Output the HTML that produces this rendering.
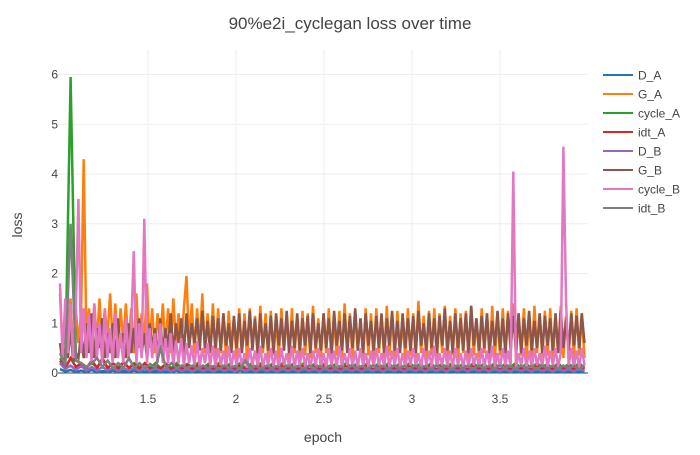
<!DOCTYPE html>
<html><head><meta charset="utf-8"><style>
body{margin:0;background:#fff;font-family:"Liberation Sans",sans-serif;}
svg text{font-family:"Liberation Sans",sans-serif;}
</style></head><body>
<svg id="c" width="700" height="450" xmlns="http://www.w3.org/2000/svg">
<text x="350" y="29" text-anchor="middle" font-size="17" fill="#444">90%e2i_cyclegan loss over time</text>
<text x="323" y="442" text-anchor="middle" font-size="14" fill="#444">epoch</text>
<text x="0" y="0" transform="translate(22,225) rotate(-90)" text-anchor="middle" font-size="14" fill="#444">loss</text>
<g id="grid"></g><g id="marks"></g><g id="legend"></g>
</svg>
<script>
const xTicks=[1.5,2,2.5,3,3.5];
const yTicks=[0,1,2,3,4,5,6];
const seriesNames=["D_A","G_A","cycle_A","idt_A","D_B","G_B","cycle_B","idt_B"];
const seriesColors=["#1f77b4","#ff7f0e","#2ca02c","#d62728","#9467bd","#8c564b","#e377c2","#7f7f7f"];
const xStart=1.0, xEnd=3.98;
const D_A=[0.08,0.03,0.06,0.02,0.05,0.02,0.06,0.01,0.04,0.02,0.05,0.01,0.04,0.02,0.05,0.01,0.03,0.02,0.04,0.01,0.03,0.02,0.05,0.01,0.03,0.02,0.04,0.01,0.03,0.02,0.04,0.01,0.03,0.02,0.05,0.01,0.03,0.02,0.04,0.01,0.03,0.02,0.04,0.01,0.03,0.02,0.04,0.01,0.03,0.02,0.03,0.01,0.04,0.02,0.03,0.01,0.04,0.02,0.03,0.01,0.04,0.02,0.03,0.01,0.04,0.02,0.03,0.01,0.04,0.02,0.03,0.01,0.04,0.02,0.03,0.01,0.04,0.02,0.03,0.01,0.04,0.02,0.03,0.01,0.04,0.02,0.03,0.01,0.04,0.02,0.03,0.01,0.04,0.02,0.03,0.01,0.04,0.02,0.03,0.01];
const G_A=[1.6,0.5,1.2,0.6,1.5,0.4,1.3,0.6,1.2,4.3,0.7,1.3,0.5,1.4,0.6,1.5,0.5,1.3,0.7,1.6,
0.6,1.4,0.5,1.3,0.6,1.4,0.5,1.3,0.4,1.6,0.5,1.2,0.6,1.8,0.5,1.3,0.4,1.2,0.6,1.4,
0.5,1.3,0.4,1.5,0.6,1.2,0.5,1.3,1.95,0.6,1.4,0.4,1.3,0.5,1.6,0.4,1.2,0.5,1.4,0.3,
1.3,0.4,1.2,0.3,1.25,0.5,1.1,0.3,1.3,0.4,1.2,0.25,1.3,0.5,1.15,0.3,1.35,0.4,1.2,0.3,
1.25,0.35,1.1,0.3,1.3,0.45,1.2,0.25,1.3,0.4,1.15,0.3,1.25,0.35,1.2,0.3,1.35,0.4,1.1,0.3,
1.2,0.4,1.3,0.25,1.15,0.35,1.25,0.3,1.4,0.4,1.2,0.3,1.25,0.45,1.1,0.3,1.3,0.35,1.2,0.25,
1.3,0.4,1.15,0.3,1.35,0.35,1.2,0.3,1.25,0.4,1.1,0.25,1.3,0.35,1.2,0.3,1.45,0.4,1.15,0.3,
1.25,0.35,1.3,0.25,1.2,0.4,1.35,0.3,1.15,0.35,1.3,0.25,1.2,0.4,1.25,0.3,1.35,0.35,1.1,0.3,
1.3,0.4,1.2,0.25,1.35,0.3,1.15,0.35,1.3,0.3,1.25,0.4,1.4,0.3,1.2,0.35,1.3,0.25,1.15,0.3,
1.35,0.4,1.2,0.3,1.25,0.35,1.3,0.25,1.2,0.4,1.35,0.3,1.15,0.35,1.25,0.3,1.3,0.35,1.2,0.3];
const cycle_A=[0.3,0.15,5.95,0.25,0.2,0.12,0.2,0.12,0.25,0.1,0.2,0.12,0.22,0.1,0.2,0.12,0.18,0.1,0.2,0.1,0.18,0.1,0.2,0.1,0.18,0.12,0.2,0.1,0.18,0.1,0.2,0.12,0.18,0.1,0.2,0.1,0.18,0.12,0.2,0.1,0.18,0.1,0.2,0.12,0.18,0.1,0.2,0.1,0.18,0.12,0.2,0.1,0.18,0.1,0.2,0.12,0.18,0.1,0.2,0.1,0.18,0.12,0.2,0.1,0.18,0.1,0.2,0.12,0.18,0.1,0.2,0.1,0.18,0.12,0.2,0.1,0.18,0.1,0.2,0.12,0.18,0.1,0.2,0.1,0.18,0.12,0.2,0.1,0.18,0.1,0.2,0.12,0.18,0.1,0.2,0.1,0.18,0.12,0.2,0.1];
const idt_A=[0.25,0.1,0.3,0.12,0.2,0.1,0.25,0.1,0.3,0.1,0.2,0.08,0.22,0.1,0.18,0.08,0.2,0.08,0.15,0.08,0.18,0.07,0.15,0.08,0.16,0.07,0.15,0.08,0.14,0.07,0.15,0.08,0.14,0.07,0.15,0.08,0.14,0.07,0.15,0.08,0.14,0.07,0.15,0.08,0.14,0.07,0.15,0.08,0.14,0.07,0.15,0.08,0.14,0.07,0.15,0.08,0.14,0.07,0.15,0.08,0.14,0.07,0.15,0.08,0.14,0.07,0.15,0.08,0.14,0.07,0.15,0.08,0.14,0.07,0.15,0.08,0.14,0.07,0.15,0.08,0.14,0.07,0.15,0.08,0.14,0.07,0.15,0.08,0.14,0.07,0.15,0.08,0.14,0.07,0.15,0.08,0.14,0.07,0.15,0.08];
const D_B=[0.2,0.08,0.15,0.06,0.14,0.05,0.12,0.05,0.12,0.05,0.1,0.04,0.1,0.05,0.1,0.04,0.09,0.04,0.1,0.04,0.09,0.03,0.09,0.04,0.08,0.03,0.09,0.04,0.08,0.03,0.09,0.04,0.08,0.03,0.09,0.04,0.08,0.03,0.09,0.04,0.08,0.03,0.09,0.04,0.08,0.03,0.09,0.04,0.08,0.03,0.09,0.04,0.08,0.03,0.09,0.04,0.08,0.03,0.09,0.04,0.08,0.03,0.09,0.04,0.08,0.03,0.09,0.04,0.08,0.03,0.09,0.04,0.08,0.03,0.09,0.04,0.08,0.03,0.09,0.04,0.08,0.03,0.09,0.04,0.08,0.03,0.09,0.04,0.08,0.03,0.09,0.04,0.08,0.03,0.09,0.04,0.08,0.03,0.09,0.04];
const G_B=[0.6,0.2,0.5,0.3,0.9,0.2,0.4,0.3,0.8,0.3,1.0,0.4,1.2,0.3,0.9,0.5,1.1,0.3,0.8,0.4,
1.0,0.3,1.1,0.5,0.8,0.3,1.0,0.4,0.9,0.3,1.1,0.4,0.8,0.3,1.0,0.5,0.9,0.3,1.1,0.4,
0.9,0.5,1.2,0.4,1.0,0.6,1.1,0.4,1.2,0.5,1.0,0.6,1.1,0.45,1.25,0.5,1.05,0.4,1.15,0.5,
1.1,0.45,1.2,0.55,1.0,0.4,1.15,0.5,1.2,0.4,1.05,0.55,1.25,0.45,1.1,0.4,1.2,0.5,1.0,0.45,
1.15,0.4,1.2,0.55,1.1,0.45,1.25,0.4,1.05,0.5,1.2,0.45,1.1,0.55,1.15,0.4,1.2,0.5,1.0,0.45,
1.2,0.5,1.1,0.4,1.25,0.55,1.05,0.45,1.2,0.4,1.15,0.5,1.3,0.45,1.1,0.4,1.2,0.55,1.05,0.45,
1.15,0.5,1.2,0.4,1.1,0.55,1.25,0.45,1.05,0.4,1.2,0.5,1.1,0.45,1.15,0.4,1.25,0.55,1.0,0.45,
1.2,0.5,1.1,0.4,1.15,0.55,1.3,0.45,1.05,0.4,1.2,0.5,1.1,0.45,1.2,0.4,1.35,0.55,1.1,0.45,
1.15,0.5,1.2,0.4,1.05,0.55,1.25,0.45,1.1,0.4,1.2,0.5,1.15,0.45,1.2,0.4,1.1,0.55,1.25,0.45,
1.05,0.5,1.2,0.4,1.15,0.55,1.1,0.45,1.2,0.4,1.25,0.5,1.1,0.45,1.2,0.55,1.15,0.5,1.2,0.6];
const cycle_B=[1.8,0.3,1.5,0.4,1.4,0.3,1.2,3.5,0.4,1.3,0.3,1.2,0.2,1.4,0.3,1.0,0.2,1.3,0.3,0.9,
0.2,1.2,0.3,0.8,0.2,1.1,0.3,0.9,2.45,0.2,1.0,0.3,3.1,0.2,0.9,0.3,0.8,0.2,1.0,0.2,
0.7,0.2,0.8,0.15,0.65,0.2,0.7,0.15,0.6,0.2,0.55,0.15,0.65,0.12,0.5,0.2,0.6,0.15,0.55,0.12,
0.5,0.15,0.45,0.12,0.55,0.1,0.45,0.15,0.5,0.12,0.4,0.1,0.5,0.15,0.45,0.12,0.55,0.1,0.4,0.15,
0.5,0.12,0.45,0.1,0.5,0.15,0.4,0.12,0.55,0.1,0.45,0.15,0.5,0.12,0.4,0.1,0.45,0.15,0.5,0.12,
0.4,0.1,0.5,0.15,0.45,0.12,0.55,0.1,0.4,0.15,0.5,0.12,0.45,0.1,0.5,0.15,0.4,0.12,0.45,0.1,
0.5,0.15,0.4,0.12,0.55,0.1,0.45,0.15,0.5,0.12,0.4,0.1,0.45,0.15,0.5,0.12,0.4,0.1,0.5,0.15,
0.45,0.12,0.55,0.1,0.4,0.15,0.5,0.12,0.45,0.1,0.5,0.15,0.4,0.12,0.45,0.1,0.5,0.15,0.4,0.12,
0.5,0.1,0.45,0.15,0.55,0.12,0.4,0.1,0.5,0.15,0.45,0.12,4.05,0.1,0.4,0.15,0.5,0.12,0.45,0.1,
0.5,0.15,0.4,0.12,0.55,0.1,0.45,0.15,0.5,0.12,0.4,4.55,1.45,0.15,0.5,0.12,0.45,0.1,0.5,0.15];
const idt_B=[0.4,0.15,3.0,0.25,0.2,0.12,0.2,0.3,0.12,0.25,0.1,0.2,0.1,0.3,0.1,0.2,0.1,0.18,0.1,0.5,0.1,0.2,0.1,0.15,0.1,0.15,0.08,0.15,0.1,0.14,0.08,0.15,0.1,0.14,0.08,0.25,0.1,0.14,0.08,0.15,0.1,0.14,0.08,0.15,0.1,0.14,0.08,0.15,0.1,0.14,0.08,0.15,0.1,0.14,0.08,0.15,0.1,0.14,0.08,0.15,0.1,0.14,0.08,0.15,0.1,0.14,0.08,0.15,0.1,0.14,0.08,0.15,0.1,0.14,0.08,0.15,0.1,0.14,0.08,0.15,0.1,0.14,0.08,0.15,0.1,0.14,0.08,0.15,0.1,0.14,0.08,0.15,0.1,0.14,0.08,0.15,0.1,0.14,0.08,0.15];
const allSeries=[D_A,G_A,cycle_A,idt_A,D_B,G_B,cycle_B,idt_B];

const X0=58,X1=588,Y0=373,Y1=75;
const xs=v=>60+(v-1)*176;
const ys=v=>Y0-(v/6)*(Y0-Y1+0.5);
const NS="http://www.w3.org/2000/svg";
function mk(tag,attrs,parent){const e=document.createElementNS(NS,tag);for(const k in attrs)e.setAttribute(k,attrs[k]);parent.appendChild(e);return e;}
const grid=document.getElementById('grid'),marks=document.getElementById('marks'),legend=document.getElementById('legend');
xTicks.forEach(t=>{
  const l=mk('line',{x1:xs(t),x2:xs(t),y1:50,y2:Y0,stroke:'#eee','stroke-width':1},grid);
  
  
  const tx=mk('text',{x:xs(t),y:403,'text-anchor':'middle','font-size':12,fill:'#444'},grid);
  tx.textContent=String(t);
  
  
});
yTicks.forEach(t=>{
  const l=mk('line',{x1:X0,x2:X1,y1:ys(t),y2:ys(t),stroke:t===0?'#444':'#eee','stroke-width':1},grid);
  
  
  const tx=mk('text',{x:58,y:ys(t)+4,'text-anchor':'end','font-size':12,fill:'#444'},grid);
  tx.textContent=String(t);
  
  
});
allSeries.forEach((arr,si)=>{
  const n=arr.length;
  const pts=arr.map((v,i)=>xs(xStart+(xEnd-xStart)*i/(n-1)).toFixed(1)+','+ys(v).toFixed(1)).join(' ');
  const p=mk('polyline',{points:pts,fill:'none',stroke:seriesColors[si],'stroke-width':2.5,'stroke-linejoin':'miter'},marks);
  
  
  const y=75+si*19;
  const g=mk('g',{},legend);
  
  
  mk('line',{x1:603,x2:633,y1:y,y2:y,stroke:seriesColors[si],'stroke-width':2},g);
  const tx=mk('text',{x:638,y:y+4.5,'font-size':12,fill:'#444'},g);
  tx.textContent=seriesNames[si];
});
</script>
</body></html>
